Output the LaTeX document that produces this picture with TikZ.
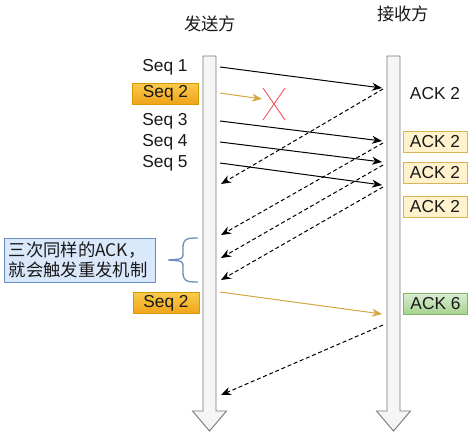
\documentclass[tikz,border=0pt]{standalone}
\usepackage{fontspec}
\setmainfont{Liberation Sans}
\newfontfamily\cjk{Noto Sans CJK SC}
\usetikzlibrary{arrows.meta}

\definecolor{lanefill}{HTML}{F5F5F5}
\definecolor{lanedraw}{HTML}{7A7A7A}
\definecolor{seqtop}{HTML}{FACB4C}
\definecolor{seqbot}{HTML}{F0A31A}
\definecolor{seqdraw}{HTML}{D79B00}
\definecolor{ackfill}{HTML}{FFF2CC}
\definecolor{ackdraw}{HTML}{D6B656}
\definecolor{oktop}{HTML}{D9EDD4}
\definecolor{okbot}{HTML}{A6D38E}
\definecolor{okdraw}{HTML}{82B366}
\definecolor{notefill}{HTML}{DAE8FC}
\definecolor{notedraw}{HTML}{6C8EBF}
\definecolor{resend}{HTML}{D2A640}
\definecolor{lost}{HTML}{F2444B}

\tikzset{
	txt/.style={font=\fontsize{13pt}{15pt}\selectfont, text=black!90, inner sep=0pt},
	cjktxt/.style={txt, font=\cjk\fontsize{13pt}{15pt}\selectfont},
	seqbox/.style={txt, draw=seqdraw, line width=0.6pt, top color=seqtop, bottom color=seqbot, minimum width=49.5pt, minimum height=15.75pt},
	ackbox/.style={txt, draw=ackdraw, line width=0.6pt, fill=ackfill, minimum width=48pt, minimum height=15.75pt},
	okbox/.style={txt, draw=okdraw, line width=0.6pt, top color=oktop, bottom color=okbot, minimum width=48pt, minimum height=15.75pt},
	lane/.style={draw=lanedraw, fill=lanefill, line width=0.7pt},
	msg/.style={line width=0.75pt, -{Stealth[length=7.5pt,width=6pt]}},
	reply/.style={line width=0.75pt, densely dashed, -{Stealth[length=7.5pt,width=6pt]}}
}

\begin{document}
\begin{tikzpicture}[x=0.75pt,y=-0.75pt]
\useasboundingbox (0,0) rectangle (474,440);

% lifelines
\foreach \c in {209.5,393.5}{
	\draw[lane] (\c-6.5,56) -- (\c+6.5,56) -- (\c+6.5,411) -- (\c+17,411) -- (\c,431)
		-- (\c-17,411) -- (\c-6.5,411) -- cycle;
}
\node[cjktxt] (sender) at (210,24) {发送方};
\node[cjktxt] (receiver) at (403,14) {接收方};

% segments
\node[txt] (seq1) at (165,67) {Seq 1};
\node[seqbox] (seq2) at (165.5,93.5) {Seq 2};
\node[txt] (seq3) at (165,121) {Seq 3};
\node[txt] (seq4) at (165,142) {Seq 4};
\node[txt] (seq5) at (165,163) {Seq 5};
\node[seqbox] (seq2b) at (166,303) {Seq 2};

% acks
\node[txt] (ack1) at (435,94) {ACK 2};
\node[ackbox] (ack2) at (435,141.5) {ACK 2};
\node[ackbox] (ack3) at (435,173) {ACK 2};
\node[ackbox] (ack4) at (435,206.5) {ACK 2};
\node[okbox] (ack5) at (435.5,303.5) {ACK 6};

% sent and received
\foreach \i/\a/\b in {1/67/88,3/121/141,4/142/162,5/163/185}{
	\coordinate (s\i) at (220,\a);
	\coordinate (r\i) at (382,\b);
	\draw[msg] (s\i) -- (r\i);
}
\coordinate (s2) at (220,93);
\coordinate (x2) at (262,99);
\draw[msg, resend] (s2) -- (x2);
\draw[lost, line width=0.6pt] (263,88) -- (285,120) (285,88) -- (263,120);
\coordinate (s6) at (220,292);
\coordinate (r6) at (382,314);
\draw[msg, resend] (s6) -- (r6);

% acks back
\foreach \i/\a/\b in {1/89/184,2/143/235,3/165/258,4/187/280,5/325/395}{
	\coordinate (ra\i) at (383,\a);
	\coordinate (sa\i) at (221,\b);
	\draw[reply] (ra\i) -- (sa\i);
}

% note
\node[cjktxt, draw=notedraw, fill=notefill, line width=0.6pt,
	align=left, minimum width=113.25pt, minimum height=33pt, text width=106pt] (note) at (79.5,260)
	{三次同样的ACK，\\就会触发重发机制};
\draw[notedraw, line width=1pt] (198,238) .. controls (186,238) and (183,239) .. (183,248) -- (183,253)
	.. controls (183,259) .. (168,260) .. controls (183,261) .. (183,267) -- (183,272)
	.. controls (183,281) and (186,282) .. (198,282);

\end{tikzpicture}
\end{document}
